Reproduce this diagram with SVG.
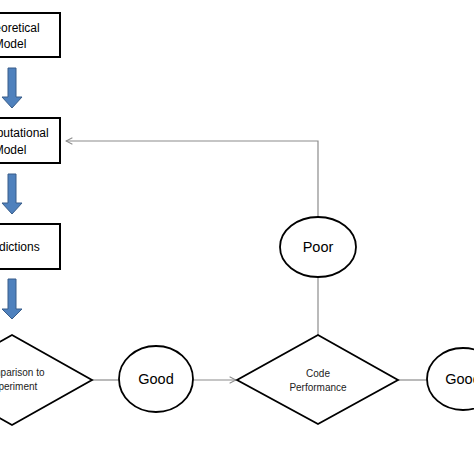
<svg xmlns="http://www.w3.org/2000/svg" width="474" height="474" viewBox="0 0 474 474">
<defs>
<style>
.box{fill:#fff;stroke:#000;stroke-width:2}
.shape{fill:#fff;stroke:#000;stroke-width:1.8}
.blue{fill:#4f81bd;stroke:#385d8a;stroke-width:1}
.conn{fill:none;stroke:#8c8c8c;stroke-width:1.2}
.t{font-family:"Liberation Sans",Arial,sans-serif;font-size:12px;fill:#000;text-anchor:middle}
.s{font-family:"Liberation Sans",Arial,sans-serif;font-size:10px;fill:#222;text-anchor:middle}
.b{font-family:"Liberation Sans",Arial,sans-serif;font-size:14.5px;fill:#000;text-anchor:middle}
</style>
<marker id="arr" viewBox="0 0 10 10" refX="9" refY="5" markerWidth="8" markerHeight="8" orient="auto" markerUnits="userSpaceOnUse">
<path d="M1,1 L9,5 L1,9" fill="none" stroke="#8c8c8c" stroke-width="1.3"/>
</marker>
</defs>
<rect width="474" height="474" fill="#fff"/>
<g id="connectors">
<path class="blue" d="M8,68 H16 V97 H22 L12,108 L2,97 H8 Z"/>
<path class="blue" d="M8,174 H16 V203 H22 L12,214 L2,203 H8 Z"/>
<path class="blue" d="M8,279 H16 V309 H22 L12,319 L2,309 H8 Z"/>
<line class="conn" x1="92" y1="380" x2="120" y2="380"/>
<line class="conn" x1="193" y1="380" x2="236" y2="380" marker-end="url(#arr)"/>
<line class="conn" x1="318" y1="335" x2="318" y2="277"/>
<polyline class="conn" points="318,217 318,141 66,141" marker-end="url(#arr)"/>
<line class="conn" x1="398" y1="380" x2="427" y2="380"/>
</g>
<g id="theoretical-model">
<rect class="box" x="-40" y="13" width="100" height="44"/>
<text class="t" x="10" y="32">Theoretical</text>
<text class="t" x="10" y="48">Model</text>
</g>
<g id="computational-model">
<rect class="box" x="-40" y="118" width="100" height="45"/>
<text class="t" x="10" y="137">Computational</text>
<text class="t" x="10" y="154">Model</text>
</g>
<g id="predictions">
<rect class="box" x="-40" y="224" width="100" height="45"/>
<text class="t" x="10" y="251">Predictions</text>
</g>
<g id="comparison">
<polygon class="shape" points="12,335 92,380 12,425 -68,380"/>
<text class="s" x="12" y="376">Comparison to</text>
<text class="s" x="12" y="390">Experiment</text>
</g>
<g id="good1">
<ellipse class="shape" cx="156" cy="379" rx="37" ry="33"/>
<text class="b" x="156" y="384">Good</text>
</g>
<g id="code-performance">
<polygon class="shape" points="318,335 398,380 318,424 237,380"/>
<text class="s" x="318" y="377">Code</text>
<text class="s" x="318" y="391">Performance</text>
</g>
<g id="poor">
<ellipse class="shape" cx="318" cy="247" rx="38" ry="30"/>
<text class="b" x="318" y="252">Poor</text>
</g>
<g id="good2">
<ellipse class="shape" cx="463" cy="379" rx="36" ry="31"/>
<text class="b" x="463" y="384">Good</text>
</g>
</svg>
